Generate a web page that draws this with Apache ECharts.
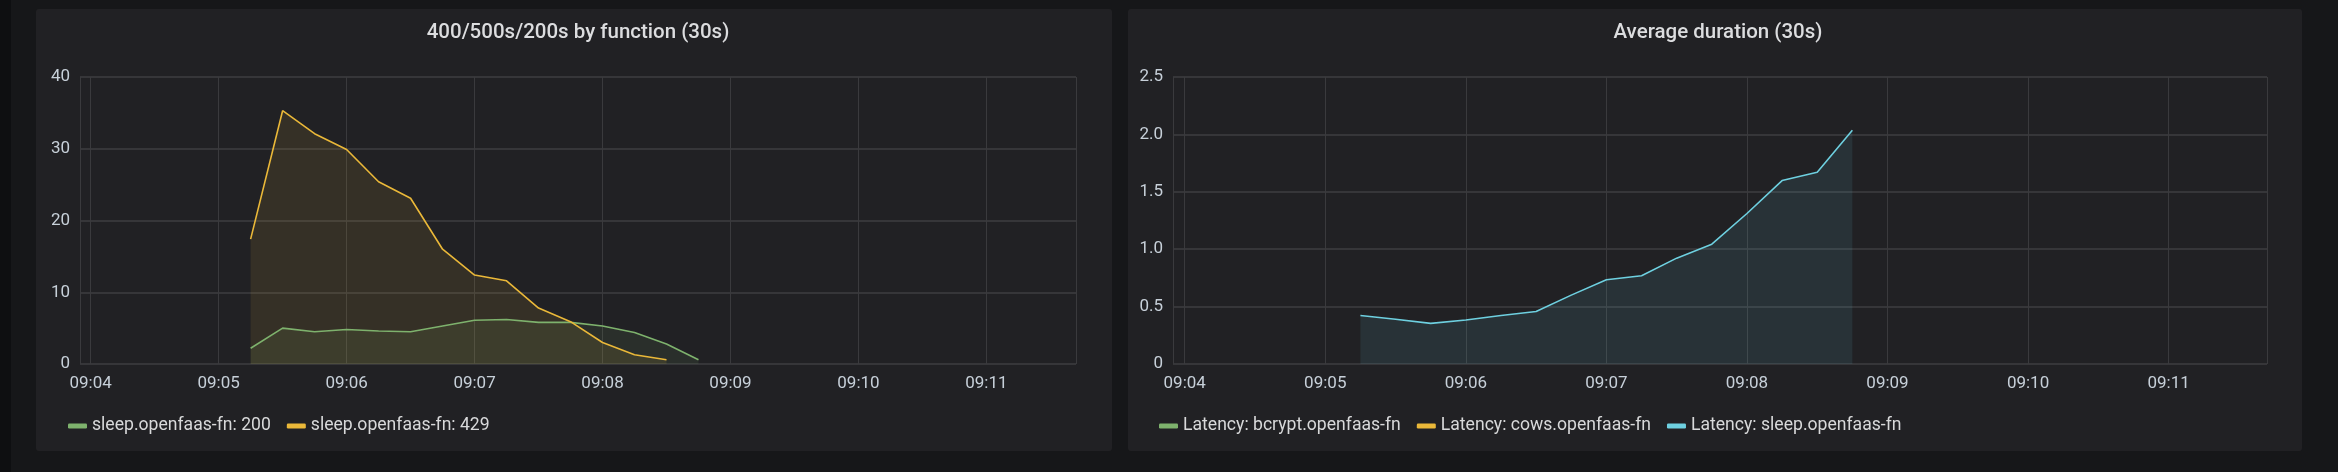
<!DOCTYPE html>
<html>
<head>
<meta charset="utf-8">
<script src="https://cdn.jsdelivr.net/npm/echarts@6/dist/echarts.min.js"></script>
<style>
  html, body { margin: 0; padding: 0; background: #161719; }
  #wrap { position: relative; width: 2338px; height: 472px; background: #161719; overflow: hidden; }
  .strip { position: absolute; left: 0; top: 0; width: 11px; height: 472px; background: #0e0f11; }
  .panel { position: absolute; background: #212124; border-radius: 3px; }
  #chart { position: absolute; left: 0; top: 0; width: 2338px; height: 472px; }
</style>
</head>
<body>
<div id="wrap">
  <div class="strip"></div>
  <div class="panel" style="left:36px; top:9px; width:1076px; height:442px;"></div>
  <div class="panel" style="left:1128px; top:9px; width:1174px; height:442px;"></div>
  <div id="chart"></div>
</div>
<script>
// ---- data ----
const day = '2024-01-01 ';
const times = ['09:05:15','09:05:30','09:05:45','09:06:00','09:06:15','09:06:30','09:06:45',
               '09:07:00','09:07:15','09:07:30','09:07:45','09:08:00','09:08:15','09:08:30','09:08:45'];
const status200 = [2.2, 5.0, 4.5, 4.8, 4.6, 4.5, 5.3, 6.1, 6.2, 5.8, 5.8, 5.3, 4.4, 2.8, 0.6];
const status429 = [17.4, 35.3, 32.1, 29.9, 25.4, 23.1, 16.0, 12.4, 11.6, 7.8, 5.9, 3.0, 1.3, 0.6, null];
const latencyBcrypt = [];
const latencyCows = [];
const latencySleep = [0.423, 0.39, 0.354, 0.383, 0.423, 0.458, 0.60, 0.734, 0.769, 0.922, 1.044, 1.311, 1.598, 1.671, 2.036];
const leftTitle = '400/500s/200s by function (30s)';
const rightTitle = 'Average duration (30s)';
const leftNames = ['sleep.openfaas-fn: 200', 'sleep.openfaas-fn: 429'];
const rightNames = ['Latency: bcrypt.openfaas-fn', 'Latency: cows.openfaas-fn', 'Latency: sleep.openfaas-fn'];
const rangeStart = '09:03:55';
const rangeEnd = '09:11:42';

// ---- helpers ----
function pair(vals) {
  const out = [];
  for (let i = 0; i < vals.length; i++) {
    if (vals[i] !== null && vals[i] !== undefined) out.push([day + times[i], vals[i]]);
  }
  return out;
}
function pad(n) { return (n < 10 ? '0' : '') + n; }
function timeFmt(v) { const d = new Date(v); return pad(d.getHours()) + ':' + pad(d.getMinutes()); }

const GREEN = '#7EB26D', YELLOW = '#EAB839', CYAN = '#6ED0E0';
const FONT = 'Roboto';
const tickColor = '#c7d0d9';
const hGrid = '#3e3e41';
const vGrid = '#3a3a3d';

function xAxisCfg(gi) {
  return {
    type: 'time', gridIndex: gi,
    min: day + rangeStart, max: day + rangeEnd,
    minInterval: 60000, maxInterval: 60000,
    axisLine: { show: false }, axisTick: { show: false },
    splitLine: { show: true, lineStyle: { color: vGrid, width: 1 } },
    axisLabel: { color: tickColor, fontFamily: FONT, fontSize: 17, margin: 11, formatter: timeFmt, hideOverlap: false }
  };
}
function yAxisCfg(gi, max, interval, fmt) {
  return {
    type: 'value', gridIndex: gi, min: 0, max: max, interval: interval,
    axisLine: { show: false }, axisTick: { show: false },
    splitLine: { show: true, lineStyle: { color: hGrid, width: 1.5 } },
    axisLabel: { color: tickColor, fontFamily: FONT, fontSize: 17, margin: 10, formatter: fmt }
  };
}
function lineSeries(name, color, vals, xi, yi) {
  return {
    name: name, type: 'line', xAxisIndex: xi, yAxisIndex: yi,
    data: pair(vals), showSymbol: false, symbol: 'none',
    lineStyle: { color: color, width: 1.6 },
    itemStyle: { color: color },
    areaStyle: { color: color, opacity: 0.1 },
    emphasis: { disabled: true }
  };
}
const legendText = { color: '#d8d9da', fontFamily: FONT, fontSize: 17.6 };
const titleText = { color: '#dcdddf', fontFamily: FONT, fontWeight: 500, fontSize: 20.5 };

const chart = echarts.init(document.getElementById('chart'), null, { renderer: 'canvas' });
chart.setOption({
  backgroundColor: 'transparent',
  animation: false,
  title: [
    { text: leftTitle, left: 573, top: 17, textAlign: 'center', textStyle: titleText },
    { text: rightTitle, left: 1713, top: 17, textAlign: 'center', textStyle: titleText }
  ],
  legend: [
    { data: leftNames, left: 63, top: 412, icon: 'roundRect', itemWidth: 19, itemHeight: 5, itemGap: 16, textStyle: legendText, selectedMode: false },
    { data: rightNames, left: 1154, top: 412, icon: 'roundRect', itemWidth: 19, itemHeight: 5, itemGap: 16, textStyle: legendText, selectedMode: false }
  ],
  grid: [
    { left: 80, right: 2338 - 1076, top: 77, bottom: 472 - 364 },
    { left: 1173, right: 2338 - 2267, top: 77, bottom: 472 - 364 }
  ],
  xAxis: [xAxisCfg(0), xAxisCfg(1)],
  yAxis: [
    yAxisCfg(0, 40, 10, v => String(v)),
    yAxisCfg(1, 2.5, 0.5, v => v === 0 ? '0' : v.toFixed(1))
  ],
  series: [
    lineSeries(leftNames[0], GREEN, status200, 0, 0),
    lineSeries(leftNames[1], YELLOW, status429, 0, 0),
    lineSeries(rightNames[0], GREEN, latencyBcrypt, 1, 1),
    lineSeries(rightNames[1], YELLOW, latencyCows, 1, 1),
    lineSeries(rightNames[2], CYAN, latencySleep, 1, 1)
  ]
});
</script>
</body>
</html>
